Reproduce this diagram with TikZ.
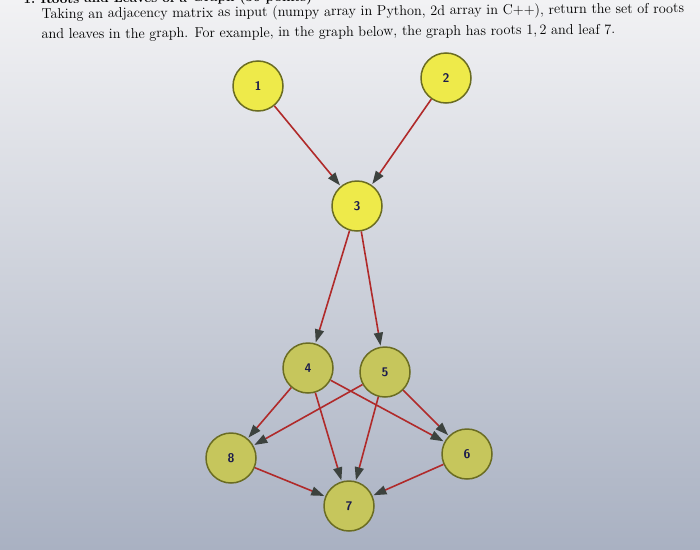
\documentclass[tikz,border=0pt]{standalone}
\usepackage{tikz}
\usetikzlibrary{arrows.meta,automata}

\definecolor{edgered}{HTML}{B02A2A}
\definecolor{tipgray}{HTML}{3C423E}
\definecolor{nodeyellow}{HTML}{EEEA4A}
\definecolor{nodeolive}{HTML}{C6C65C}
\definecolor{rimgreen}{HTML}{6A6C22}
\definecolor{labelblue}{HTML}{1C1C4C}
\definecolor{papertop}{HTML}{F2F2F4}
\definecolor{paperbottom}{HTML}{A9B1C2}

\begin{document}
\begin{tikzpicture}[x=1pt,y=-1pt,->,>={Triangle[length=13pt,width=9pt,color=tipgray]},shorten >=1pt,semithick]

    \tikzstyle{every state}=[fill=nodeyellow,draw=rimgreen,line width=1.5pt,text=labelblue,minimum size=50pt,inner sep=0pt,font=\sffamily\bfseries\fontsize{12.5}{14}\selectfont]
    \tikzstyle{low state}=[state,fill=nodeolive]
    \tikzstyle{every edge}=[draw=edgered,line width=1.6pt]

    \useasboundingbox (0,0) rectangle (700,549);
    \clip (0,0) rectangle (700,549);
    \shade[top color=papertop,bottom color=paperbottom,draw=none] (0,0) rectangle (700,549);

    % text above the graph (the first line is cut off at the top)
    \node[anchor=base west,rotate=0.5,font=\bfseries\fontsize{13.5}{16}\selectfont] (title) at (20,3.5) {1.\ Roots and Leaves of a Graph (30 points)};
    \node[anchor=base west,rotate=0.5,font=\fontsize{14.3}{16}\selectfont] (line1) at (38,18.5) {Taking an adjacency matrix as input (numpy array in Python, 2d array in C++), return the set of roots};
    \node[anchor=base west,rotate=0.5,font=\fontsize{14.3}{16}\selectfont] (line2) at (38,39) {and leaves in the graph. For example, in the graph below, the graph has roots 1,\,2 and leaf 7.};

    \node[state]     (1) at (258,86)  {1};
    \node[state]     (2) at (446,78)  {2};
    \node[state]     (3) at (357,206) {3};
    \node[low state] (4) at (308,368) {4};
    \node[low state] (5) at (385,372) {5};
    \node[low state] (8) at (231,458) {8};
    \node[low state] (6) at (467,454) {6};
    \node[low state] (7) at (349,506) {7};

    \path (1) edge (3)
          (2) edge (3)
          (3) edge (4)
              edge (5)
          (4) edge (8)
              edge (7)
              edge (6)
          (5) edge (8)
              edge (7)
              edge (6)
          (8) edge (7)
          (6) edge (7)
    ;
\end{tikzpicture}
\end{document}
